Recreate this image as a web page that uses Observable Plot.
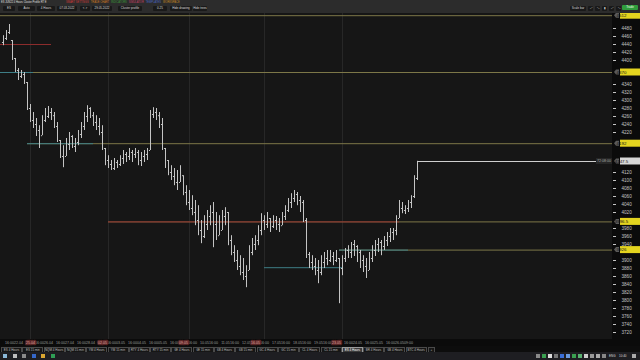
<!DOCTYPE html>
<html><head><meta charset="utf-8">
<script src="https://cdn.jsdelivr.net/npm/d3@7"></script>
<script src="https://cdn.jsdelivr.net/npm/@observablehq/plot@0.6"></script>
<style>
html,body{margin:0;padding:0;background:#000;width:640px;height:360px;overflow:hidden;font-family:"Liberation Sans",Arial,sans-serif;}
#top{position:relative;height:13px;background:#2c2c2c;}
#top .r1{position:absolute;left:1px;top:0;height:5px;display:flex;gap:2px;font-size:2.6px;line-height:5px;white-space:nowrap;}
#top .r1 span{display:block;}
#top .r1 .t{width:63px;color:#e0e0e0;}
#top .b{position:absolute;top:6px;height:5px;background:#191919;color:#d8d8d8;text-align:center;border-radius:1px;white-space:nowrap;font-size:3px;line-height:5px;overflow:hidden;}
#chart{height:333px;}
#tabs{position:relative;height:6px;background:#0d0d0d;}
#tabs span{position:absolute;top:0.5px;height:4px;line-height:4px;font-size:3px;color:#bbb;border:0.5px solid #4a4a4a;background:#161616;text-align:center;white-space:nowrap;overflow:hidden;}
#taskbar{position:relative;height:8px;background:#1e1e22;}
#taskbar i{position:absolute;top:2px;width:4px;height:4px;display:block;}
#taskbar span{position:absolute;top:2px;font-size:3px;line-height:4px;color:#ddd;}
</style></head><body>
<div id="top">
  <div class="r1">
    <span class="t">ES JUN22 4 Hours Cluster Profile RT E</span>
    <span style="color:#d23a3a">SMART SETTINGS</span>
    <span style="color:#d07a22">TRADE CHART</span>
    <span style="color:#3a9c3a">INDICATORS</span>
    <span style="color:#c84068">SIMULATOR</span>
    <span style="color:#4a68c8">TEMPLATES</span>
    <span style="color:#c88a22">WORKSPACE</span>
  </div>
  <span class="b" style="left:3px;width:12px">ES</span>
  <span class="b" style="left:18px;width:17px">Auto</span>
  <span class="b" style="left:37px;width:18px">4 Hours</span>
  <span class="b" style="left:57px;width:20px">07.03.2022</span>
  <span class="b" style="left:80px;width:10px">&lt; &gt;</span>
  <span class="b" style="left:92px;width:20px">29.05.2022</span>
  <span class="b" style="left:118px;width:24px">Cluster profile</span>
  <span class="b" style="left:153px;width:14px">0.25</span>
  <span class="b" style="left:170px;width:22px">Hide drawing</span>
  <span class="b" style="left:193px;width:14px">Hide trees</span>
  <span class="b" style="left:570px;width:16px">Scale bar</span>
  <span class="b" style="left:588px;width:5px">⤢</span>
  <span class="b" style="left:595px;width:5px">⤡</span>
  <span class="b" style="left:602px;width:5px">▮</span>
  <span class="b" style="left:609px;width:5px">⤢</span>
  <span class="b" style="left:616px;width:5px">⤡</span>
  <span class="b" style="left:622px;top:5px;width:16px;background:#2f9d3c;color:#eaffea">Trade</span>
</div>
<div id="chart"></div>
<div id="tabs"></div>
<div id="taskbar"></div>
<script>
// ---- data (ES 4-hour bars) ----
const highs = [
 4462,4475,4490,4450,4405,4380,4375,4370,4345,4290,
 4270,4255,4237,4262,4280,4285,4280,4270,4245,4200,
 4187,4205,4220,4212,4205,4225,4245,4270,4287,4282,
 4270,4262,4255,4237,4180,4162,4150,4155,4150,4162,
 4175,4170,4180,4175,4180,4175,4170,4175,4180,4275,
 4282,4280,4270,4255,4180,4150,4137,4130,4125,4137,
 4112,4087,4075,4062,4050,4037,4000,4012,4025,4037,
 4045,4020,4012,4025,4032,4020,3962,3937,3925,3912,
 3905,3887,3937,3955,3962,3987,4017,4012,4020,4005,
 4012,4010,4005,4020,4037,4055,4067,4075,4070,4060,
 4050,4005,3920,3912,3905,3900,3912,3920,3925,3925,
 3920,3925,3905,3912,3930,3937,3945,3950,3937,3925,
 3912,3905,3920,3937,3950,3955,3950,3960,3970,3980,
 3980,4012,4050,4045,4037,4050,4062,4112,4148];
const lows = [
 4437,4450,4465,4400,4370,4350,4355,4340,4275,4245,
 4230,4210,4180,4212,4245,4255,4250,4230,4195,4155,
 4132,4160,4175,4180,4170,4187,4205,4225,4245,4255,
 4235,4225,4212,4175,4137,4130,4125,4125,4130,4135,
 4140,4145,4150,4145,4155,4137,4135,4145,4150,4175,
 4255,4250,4230,4175,4130,4112,4100,4087,4075,4095,
 4062,4037,4025,4012,3987,3962,3942,3955,3975,3987,
 3932,3950,3962,3975,3987,3937,3912,3895,3875,3862,
 3850,3832,3875,3912,3925,3937,3962,3975,3980,3970,
 3980,3975,3970,3987,4000,4020,4030,4045,4037,4020,
 3995,3905,3880,3875,3862,3842,3862,3880,3887,3895,
 3887,3895,3792,3862,3895,3905,3905,3910,3895,3880,
 3870,3855,3875,3895,3910,3920,3912,3925,3935,3945,
 3950,3962,4005,4017,4015,4020,4030,4055,4100];
const closes = [
 4455,4470,4468,4405,4375,4360,4365,4345,4280,4250,
 4240,4225,4190,4250,4260,4270,4262,4235,4200,4160,
 4150,4190,4210,4185,4195,4215,4235,4260,4280,4262,
 4245,4235,4220,4180,4150,4140,4130,4145,4140,4155,
 4165,4160,4170,4165,4170,4150,4160,4165,4170,4265,
 4270,4262,4240,4180,4150,4120,4110,4095,4090,4120,
 4070,4045,4030,4020,4000,3975,3960,3990,4010,4020,
 3990,3960,3975,4010,4020,3950,3920,3900,3885,3870,
 3860,3850,3920,3940,3950,3975,4000,3990,4005,3985,
 4000,3990,3985,4010,4025,4045,4055,4065,4050,4045,
 4000,3915,3895,3885,3875,3870,3895,3905,3900,3910,
 3900,3905,3880,3905,3925,3920,3940,3935,3920,3900,
 3885,3870,3905,3925,3940,3945,3935,3950,3960,3970,
 3975,4005,4030,4025,4030,4045,4060,4105,4147.5];
const firstOpen = 4445;

// horizontal levels (price, from bar, to bar, kind)
const segPrice = [4512, 4440, 4370, 4370, 4192, 4192, 3996.5, 3996.5, 3926, 3926, 3882];
const segFrom  = [-1,   -1,   -1,   -1,   8,    8,    35,     35,     112,  112,  87];
const segTo    = [203,  16,   203,  10,   203,  30,   203,    132,    203,  135,  113];
const segKind  = ["zone","high","zone","va","zone","va","zone","high","zone","va","va"];

// right-axis badges
const badgePrices = [4512, 4370, 4192, 3996.5, 3926];
const badgeTexts  = ["4512", "4370", "4192", "3996.5", "3926"];
const countdownText = "72:08:00";

// price axis tick labels
const priceTicks = [4500,4480,4460,4440,4420,4400,4380,4360,4340,4320,4300,4280,4260,4240,4220,4200,4180,4160,4140,4120,
  4100,4080,4060,4040,4020,4000,3980,3960,3940,3920,3900,3880,3860,3840,3820,3800,3780,3760,3740,3720];

// time axis
const timeTickBars = [2,5,9,12,15,19,22,26,29,33,36,39,43,46,50,53,57,60,63,67,70,74,77,81,84,87,91,94,98,101,105,108,111,115,118,122,125,129,132,135];
const timeLabels = ["16:00","22.04","25.04","16:00","26.04","16:00","27.04","16:00","28.04","02.05",
  "16:00","03.05","16:00","04.05","16:00","05.05","16:00","09.05","16:00","10.05",
  "16:00","11.05","16:00","12.05","16.05","16:00","17.05","16:00","18.05","16:00",
  "19.05","16:00","23.05","16:00","24.05","16:00","25.05","16:00","26.05","09:00"];
const weekLabelIdx = [2, 9, 17, 24, 32];
const weekBars = [9, 35, 62, 87, 113];

const tabNames = ["ES 4 Hours","ES 15 min","NQM 4 Hours","NQM 15 min","YM 4 Hours","YM 15 min","RTY 4 Hours","RTY 15 min",
  "6E 4 Hours","6E 15 min","6B 4 Hours","6B 15 min","GC 4 Hours","GC 15 min","CL 4 Hours","CL 15 min",
  "ES 4 Hours","BR 4 Hours","6B 4 Hours","BTC 4 Hours"];
const activeTab = 16;

// ---- build ----
const xMin = -1, xMax = 203;
const bars = highs.map((h, i) => {
  const prev = i === 0 ? firstOpen : closes[i - 1];
  return {i, high: h, low: lows[i], close: closes[i], open: Math.min(h, Math.max(lows[i], prev))};
});
const last = bars[bars.length - 1];
const kindColor = {zone: "#7d7748", high: "#8c2c2c", va: "#3e7e86"};
const segs = segPrice.map((p, k) => ({p, from: segFrom[k], to: segTo[k], kind: segKind[k]}));
const badgeAll = [...badgePrices, last.close];
const axisTicks = priceTicks.filter(t => badgeAll.every(b => Math.abs(t - b) > 13));

function badges(index, scales, values, dims) {
  const g = d3.create("svg:g");
  const x0 = dims.width - dims.marginRight;
  const add = (p, txt, fill) => {
    const y = scales.y(p);
    g.append("path").attr("d", `M${x0+2},${y} L${x0+4},${y-2.5} L${x0+7},${y-2.5} L${x0+7},${y+2.5} L${x0+4},${y+2.5} Z`).attr("fill", "#5a5a5a");
    g.append("rect").attr("x", x0 + 8).attr("y", y - 3.5).attr("width", dims.width - x0 - 8).attr("height", 7).attr("fill", fill);
    g.append("text").attr("x", x0 + 9.5).attr("y", y).attr("dy", "0.35em").attr("font-size", 4.4).attr("fill", "#151515").text(txt);
  };
  badgePrices.forEach((p, k) => add(p, badgeTexts[k], "#e4d41f"));
  add(last.close, String(last.close.toFixed(1)), "#d6d6d6");
  const yc = scales.y(last.close);
  g.append("rect").attr("x", x0 - 16).attr("y", yc - 3).attr("width", 16).attr("height", 6).attr("fill", "#262626");
  g.append("text").attr("x", x0 - 1).attr("y", yc).attr("dy", "0.35em").attr("text-anchor", "end").attr("font-size", 3.6).attr("fill", "#a8a8a8").text(countdownText);
  return g.node();
}

const barColor = "#c4c4c4";
const chart = Plot.plot({
  width: 640, height: 333,
  marginLeft: 0, marginRight: 28, marginTop: 0, marginBottom: 7,
  x: {type: "linear", domain: [xMin, xMax], range: [0, 612], axis: null},
  y: {type: "linear", domain: [3700, 4515], range: [327, 1], axis: "right", ticks: axisTicks,
      tickFormat: d => String(d), tickSize: 3, tickPadding: 6, label: null},
  style: "background: linear-gradient(#0b0b0b,#0b0b0b) right top/28px 100% no-repeat, linear-gradient(#0b0b0b,#0b0b0b) left bottom/100% 7px no-repeat, #161616; color:#c4c4c4; font: 4.6px 'Liberation Sans', Arial, sans-serif; display:block; max-width:none; overflow:visible;",
  marks: [
    Plot.ruleX(weekBars, {x: d => d, stroke: "#272727"}),
    Plot.ruleY(segs.filter(s => s.kind === "zone"), {y: "p", x1: "from", x2: "to", stroke: kindColor.zone}),
    Plot.ruleY(segs.filter(s => s.kind === "high"), {y: "p", x1: "from", x2: "to", stroke: kindColor.high}),
    Plot.ruleY(segs.filter(s => s.kind === "va"), {y: "p", x1: "from", x2: "to", stroke: kindColor.va}),
    Plot.ruleX(bars, {x: "i", y1: "low", y2: "high", stroke: barColor}),
    Plot.ruleY(bars, {y: "open", x1: d => d.i - 0.34, x2: "i", stroke: barColor}),
    Plot.ruleY(bars, {y: "close", x1: "i", x2: d => d.i + 0.34, stroke: barColor}),
    Plot.ruleY([last], {y: "close", x1: "i", x2: () => xMax, stroke: "#cfcfcf"}),
    Plot.text(timeTickBars.map((b, k) => k).filter(k => !weekLabelIdx.includes(k)), {
      x: k => timeTickBars[k], text: k => timeLabels[k], frameAnchor: "bottom", dy: 4.5,
      fill: "#9a9a9a", fontSize: 3.6}),
    Plot.text(weekLabelIdx, {
      x: k => timeTickBars[k], text: k => timeLabels[k], frameAnchor: "bottom", dy: 4.5,
      fill: "#e0a8a8", stroke: "#5a2626", strokeWidth: 2.5, fontSize: 3.6}),
    badges
  ]
});
document.getElementById("chart").appendChild(chart);

// tabs
const tabs = document.getElementById("tabs");
tabNames.forEach((n, k) => {
  const s = document.createElement("span");
  s.textContent = n;
  s.style.left = (1 + k * 21.3) + "px";
  s.style.width = "19px";
  if (k === activeTab) { s.style.background = "#3c3c3c"; s.style.borderColor = "#999"; s.style.color = "#fff"; }
  tabs.appendChild(s);
});
const plus = document.createElement("span");
plus.textContent = "+"; plus.style.left = "428px"; plus.style.width = "5px";
tabs.appendChild(plus);

// taskbar
const tb = document.getElementById("taskbar");
const leftIcons = ["#8ab8d8", "#bdbdbd", "#8a8a8a", "#3567c9", "#d9a630", "#2f9e55"];
leftIcons.forEach((c, k) => { const i = document.createElement("i"); i.style.left = (3 + k * 9.5) + "px"; i.style.background = c; tb.appendChild(i); });
const trayIcons = ["#8a8a8a", "#3aa050", "#dddddd", "#777777", "#3a6fd8", "#6a9ae0", "#3aa050", "#58b070", "#cccccc", "#999999", "#aaaaaa", "#888888"];
trayIcons.forEach((c, k) => { const i = document.createElement("i"); i.style.left = (536 + k * 6) + "px"; i.style.width = "3.5px"; i.style.height = "3.5px"; i.style.background = c; tb.appendChild(i); });
[["ENG", 609], ["10:40", 619]].forEach(([t, x]) => { const s = document.createElement("span"); s.textContent = t; s.style.left = x + "px"; tb.appendChild(s); });
const note = document.createElement("i"); note.style.left = "632px"; note.style.background = "#aaa"; tb.appendChild(note);
</script>
</body></html>
